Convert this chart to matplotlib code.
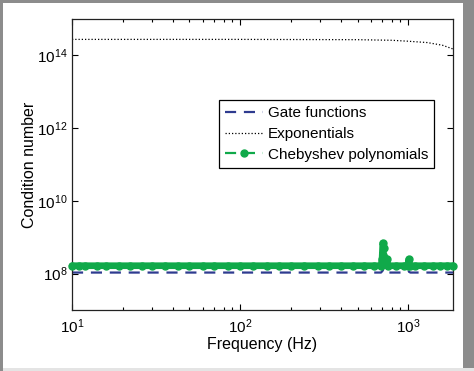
import numpy as np
import matplotlib
matplotlib.use("Agg")
import matplotlib.pyplot as plt
from matplotlib.lines import Line2D
from matplotlib.patches import Rectangle

plt.rcParams['font.family'] = ['Liberation Sans', 'DejaVu Sans']
plt.rcParams['mathtext.fontset'] = 'custom'
plt.rcParams['mathtext.rm'] = 'Liberation Sans'
plt.rcParams['mathtext.default'] = 'regular'

# values
gate_freq = [10, 690, 705, 715, 730, 760, 990, 1010, 1030, 1850]
gate_val = [1.07e8, 1.07e8, 1.2e8, 1.37e8, 1.2e8, 1.07e8, 1.07e8, 1.15e8, 1.07e8, 1.07e8]

exp_freq = [10, 100, 500, 800, 1000, 1300, 1600, 1850]
exp_val = [2.75e14, 2.75e14, 2.7e14, 2.6e14, 2.45e14, 2.25e14, 1.9e14, 1.5e14]

cheb_freq = [10, 11, 12, 14, 16, 19, 22, 26, 30, 36, 43, 50, 60, 70, 85, 100, 120,
             145, 170, 200, 240, 290, 340, 400, 470, 550, 630, 690, 700, 707, 722,
             707, 747, 760, 850, 950, 995, 1010, 1025, 1100, 1250, 1400, 1550, 1700, 1850]
cheb_val = [1.65e8] * 28 + [2.5e8, 6.9e8, 5.2e8, 3.3e8, 2.5e8, 1.65e8, 1.65e8, 1.65e8,
                            1.65e8, 2.5e8, 1.65e8, 1.65e8, 1.65e8, 1.65e8, 1.65e8, 1.65e8, 1.65e8]

gate_color = '#2e3b8f'
cheb_color = '#10a94a'
dash = (0, (5, 3.5))
dots = (0, (1, 1.6))

fig = plt.figure(figsize=(4.74, 3.71), dpi=100, facecolor='#8c8c8c')
fig.patches.append(Rectangle((3 / 474, 0), 1, 3 / 371, transform=fig.transFigure,
                             facecolor='#e4e4e4', edgecolor='none', zorder=-2))
fig.patches.append(Rectangle((3 / 474, 3 / 371), 460 / 474, 365 / 371, transform=fig.transFigure,
                             facecolor='white', edgecolor='none', zorder=-1))

ax = fig.add_axes([72 / 474, 61 / 371, 381 / 474, 291 / 371])

ax.plot(gate_freq, gate_val, color=gate_color, lw=1.6, linestyle=dash, zorder=2)
ax.plot(exp_freq, exp_val, color='black', lw=0.9, linestyle=dots, zorder=2)
ax.plot(cheb_freq, cheb_val, color=cheb_color, lw=4.8, solid_capstyle='round',
        marker='o', ms=5, zorder=3, clip_on=False)

ax.set_xscale('log')
ax.set_yscale('log')
ax.set_xlim(10, 1850)
ax.set_ylim(1e7, 1e15)
ax.set_yticks([1e8, 1e10, 1e12, 1e14])
ax.yaxis.set_minor_locator(matplotlib.ticker.NullLocator())

ax.tick_params(which='both', direction='in', top=True, right=True, labelsize=11)
ax.tick_params(axis='x', pad=5)
ax.tick_params(axis='y', pad=3)
ax.tick_params(which='major', length=4, width=0.8)
ax.tick_params(which='minor', length=2, width=0.8)
for s in ax.spines.values():
    s.set_linewidth(0.9)
    s.set_color('#222222')

ax.set_xlabel('Frequency (Hz)', fontsize=11.5, labelpad=1)
ax.set_ylabel('Condition number', fontsize=11.5, labelpad=0.5)

handles = [
    Line2D([], [], color=gate_color, lw=1.6, linestyle=dash),
    Line2D([], [], color='black', lw=0.9, linestyle=dots),
    Line2D([], [], color=cheb_color, lw=1.6, linestyle=dash, marker='o', ms=5),
]
leg = ax.legend(handles, ['Gate functions', 'Exponentials', 'Chebyshev polynomials'],
                loc='upper left', bbox_to_anchor=(0.386, 0.722), borderaxespad=0,
                fontsize=11, fancybox=False, framealpha=1, edgecolor='black',
                handlelength=2.5, handletextpad=0.3, labelspacing=0.45, numpoints=1,
                borderpad=0.4)
leg.get_frame().set_linewidth(0.9)

fig.savefig('out.png', dpi=100, facecolor=fig.get_facecolor())
